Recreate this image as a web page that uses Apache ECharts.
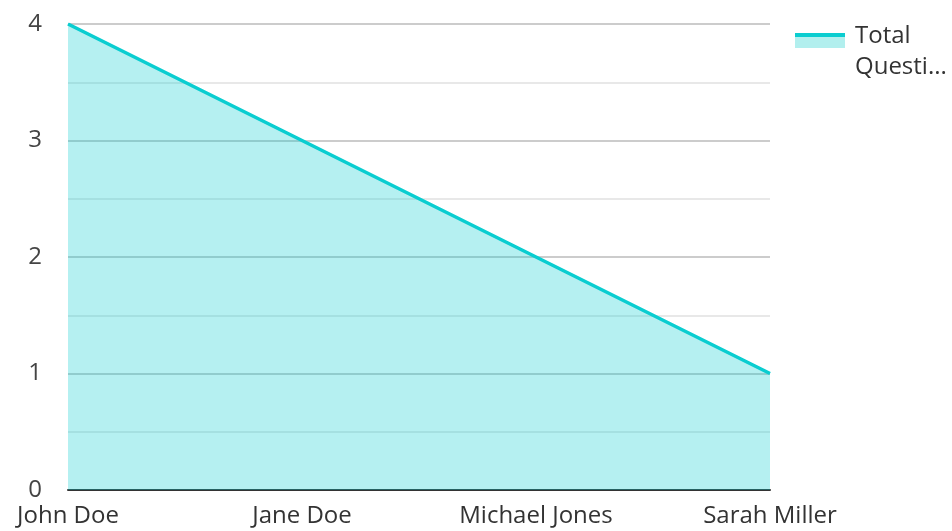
<!DOCTYPE html>
<html>
<head>
<meta charset="utf-8">
<script src="https://cdn.jsdelivr.net/npm/echarts@6/dist/echarts.min.js"></script>
<style>html,body{margin:0;padding:0;background:#fff;}#c{width:952px;height:531px;}</style>
</head>
<body>
<div id="c"></div>
<script>
const categories = ['John Doe', 'Jane Doe', 'Michael Jones', 'Sarah Miller'];
const seriesName = 'Total Questions';
const values = [4, 3, 2, 1];
const yTicks = [0, 1, 2, 3, 4];

const lineColor = '#0ACDD0';
const areaColor = '#B2EFEE';
const font = 'Open Sans';

const chart = echarts.init(document.getElementById('c'));
chart.setOption({
  animation: false,
  grid: { left: 68, right: 182, top: 24, bottom: 41, containLabel: false },
  legend: {
    orient: 'vertical',
    left: 795,
    top: 21,
    padding: 0,
    itemWidth: 50,
    itemHeight: 62,
    icon: 'path://M0,0L0.001,0M0,12L50,12L50,27L0,27ZM0,62L0.001,62',
    itemStyle: {
      color: new echarts.graphic.LinearGradient(0, 0, 0, 1, [
        { offset: 0, color: lineColor },
        { offset: 0.258, color: lineColor },
        { offset: 0.258, color: areaColor },
        { offset: 1, color: areaColor }
      ])
    },
    formatter: function (name) { return name.replace(' ', '\n'); },
    textStyle: {
      fontFamily: font, fontSize: 24, color: '#333',
      lineHeight: 31, width: 100, overflow: 'truncate', ellipsis: '...',
      padding: [0, 0, 0, 5]
    },
    data: [seriesName]
  },
  xAxis: {
    type: 'category',
    data: categories,
    boundaryGap: false,
    axisLine: { show: true, lineStyle: { color: '#333', width: 2 } },
    axisTick: { show: false },
    axisLabel: { fontFamily: font, fontSize: 24, color: '#333', margin: 14, interval: 0 },
    splitLine: { show: false }
  },
  yAxis: {
    type: 'value',
    min: yTicks[0],
    max: yTicks[yTicks.length - 1],
    interval: 1,
    axisLine: { show: false },
    axisTick: { show: false },
    axisLabel: { fontFamily: font, fontSize: 24, color: '#444', margin: 26 },
    splitLine: { show: true, lineStyle: { color: '#cccccc', width: 2 } },
    minorTick: { show: false, splitNumber: 2 },
    minorSplitLine: { show: true, lineStyle: { color: '#e8e8e8', width: 2 } }
  },
  series: [{
    name: seriesName,
    type: 'line',
    data: values,
    symbol: 'none',
    lineStyle: { color: lineColor, width: 3.5 },
    itemStyle: { color: lineColor },
    areaStyle: { color: lineColor, opacity: 0.3 }
  }]
});
</script>
</body>
</html>
